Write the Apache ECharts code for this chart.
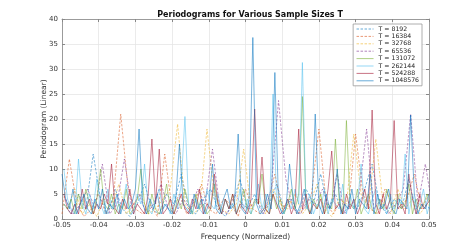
<!DOCTYPE html>
<html>
<head>
<meta charset="utf-8">
<script src="https://cdn.jsdelivr.net/npm/echarts@6/dist/echarts.min.js"></script>
<style>
  html, body { margin: 0; padding: 0; background: #fff; }
  #chart { width: 474px; height: 246px; }
</style>
</head>
<body>
<div id="chart"></div>
<script>
// sample sizes and colours (matlab default order)
var sizes = [8192, 16384, 32768, 65536, 131072, 262144, 524288, 1048576];
var colors = ['#0072BD', '#D95319', '#EDB120', '#7E2F8E', '#77AC30', '#4DBEEE', '#A2142F', '#0072BD'];
var dashed = [true, true, true, true, false, false, false, false];

// frequency grid: start offset + step for each curve
var freqStep = [0.002, 0.002, 0.002, 0.002, 0.001, 0.001, 0.001, 0.001];
var freqOffset = [0.0005, 0, 0.0015, 0.001, 0.0005, 0.0005, 0.0005, 0];

// periodogram values
var p8192 = [3, 1, 5, 2, 13, 4, 1, 6, 2, 0.5, 3, 7, 2, 1, 5, 3, 9, 2, 1, 4, 6, 2, 0.5, 3, 8, 2, 5, 1, 3, 7, 2, 4, 1, 6, 3, 9, 2, 5, 1, 3, 2, 6, 11, 3, 1, 4, 2, 8, 1, 3, 2];
var p16384 = [1, 12, 3, 0.5, 2, 5, 1, 4, 21, 6, 2, 1, 3, 0.5, 13, 2, 5, 1, 3, 7, 2, 1, 4, 3, 0.5, 6, 2, 1, 3, 9, 2, 4, 1, 2, 5, 18, 3, 1, 4, 2, 17, 5, 2, 1, 6, 3, 2, 4, 9, 2, 5];
var p32768 = [2, 6, 1, 3, 0.5, 4, 2, 7, 1, 3, 5, 1, 2, 4, 6, 19, 3, 1, 2, 18, 5, 2, 1, 3, 14, 2, 4, 1, 6, 3, 2, 5, 1, 3, 7, 2, 0.5, 4, 3, 17, 5, 2, 16, 3, 1, 6, 2, 4, 1, 3, 2];
var p65536 = [4, 1, 3, 6, 2, 11, 1, 3, 12, 2, 5, 1, 3, 7, 2, 1, 4, 2, 6, 3, 14, 2, 1, 5, 3, 2, 4, 1, 6, 23.7, 8, 2, 1, 4, 3, 6, 2, 9, 1, 3, 5, 18, 2, 4, 1, 3, 6, 21, 3, 11, 2];
var p131072 = [
    3, 2, 4, 1, 5, 2, 6, 3, 1, 4,
    10, 3, 2, 5, 1, 3, 2, 6, 1, 2,
    4, 10, 3, 1, 5, 2, 1, 3, 7, 2,
    1, 4, 2, 6, 3, 1, 5, 2, 3, 1,
    2, 7, 3, 1, 4, 2, 5, 1, 3, 6,
    2, 1, 4, 3, 9, 2, 1, 5, 2, 4,
    1, 3, 6, 2, 5, 24.5, 3, 1, 4, 2,
    5, 1, 3, 2, 16, 4, 1, 19.7, 3, 2,
    6, 1, 3, 5, 2, 1, 4, 2, 6, 3,
    1, 5, 2, 3, 7, 1, 4, 2, 3, 5,
    2];
var p262144 = [
    10, 4, 2, 1, 12, 3, 1, 5, 2, 8,
    3, 1, 6, 2, 4, 1, 3, 7, 2, 1,
    5, 3, 11, 2, 1, 4, 6, 2, 3, 1,
    5, 2, 7, 20.5, 3, 1, 4, 2, 1, 6,
    3, 2, 5, 1, 4, 2, 3, 1, 6, 2,
    4, 1, 3, 7, 2, 5, 1, 25, 3, 2,
    1, 4, 2, 6, 3, 31.3, 2, 5, 1, 3,
    2, 6, 1, 4, 3, 2, 7, 1, 5, 2,
    3, 11, 2, 1, 4, 6, 2, 3, 1, 5,
    2, 4, 3, 13, 1, 5, 2, 3, 6, 1,
    4];
var p524288 = [
    5, 2, 1, 3, 1, 6, 2, 4, 1, 3,
    2, 5, 3, 11, 2, 1, 4, 2, 6, 1,
    3, 2, 1, 5, 16, 3, 14, 1, 2, 4,
    1, 3, 5, 2, 1, 4, 2, 6, 1, 3,
    2, 9, 3, 1, 4, 2, 5, 1, 3, 2,
    1, 4, 22, 3, 12.4, 2, 1, 5, 3, 1,
    2, 4, 1, 3, 18, 2, 5, 1, 3, 2,
    4, 1, 6, 13.6, 2, 3, 1, 5, 2, 4,
    1, 3, 6, 2, 21.8, 3, 1, 5, 2, 4,
    19.7, 2, 3, 1, 9, 4, 1, 5, 2, 3,
    4];
var p1048576 = [
    9, 4, 2, 6, 1, 3, 5, 2, 1, 4,
    2, 6, 1, 3, 2, 5, 1, 4, 2, 3,
    6, 18, 3, 1, 4, 2, 5, 1, 3, 2,
    1, 4, 15, 3, 2, 1, 5, 2, 4, 1,
    3, 11, 2, 1, 4, 6, 2, 3, 17, 2,
    1, 4, 36.3, 3, 1, 2, 5, 2, 29.3, 3,
    1, 2, 11, 4, 1, 3, 6, 2, 1, 21,
    3, 1, 5, 2, 4, 10, 1, 3, 2, 6,
    1, 4, 3, 2, 9, 1, 5, 2, 3, 6,
    2, 1, 4, 3, 2, 20.8, 5, 1, 3, 2,
    5];
var curves = [p8192, p16384, p32768, p65536, p131072, p262144, p524288, p1048576];

(function () {
    var myChart = echarts.init(document.getElementById('chart'));
    var font = 'DejaVu Sans';

    var series = curves.map(function (vals, k) {
        var pts = vals.map(function (v, i) {
            return [+(-0.05 + freqOffset[k] + i * freqStep[k]).toFixed(5), v];
        });
        return {
            name: 'T = ' + sizes[k],
            type: 'line',
            data: pts,
            symbol: 'none',
            clip: true,
            z: 2 + k,
            lineStyle: {
                color: colors[k],
                width: 0.7,
                type: dashed[k] ? [2.5, 1.5] : 'solid',
                opacity: 0.75
            },
            itemStyle: { color: colors[k] }
        };
    });

    var axisCommon = {
        axisLine: { show: true, onZero: false, lineStyle: { color: '#888', width: 0.8 } },
        axisTick: { show: true, inside: true, length: 3, lineStyle: { color: '#888' } }
    };

    var option = {
        animation: false,
        title: {
            text: 'Periodograms for Various Sample Sizes T',
            left: 245, top: 6,
            textAlign: 'center',
            textStyle: { fontFamily: font, fontSize: 8, fontWeight: 'bold', color: '#111' }
        },
        legend: {
            orient: 'vertical',
            right: 52, top: 24,
            itemWidth: 17, itemHeight: 6, itemGap: 1.4,
            padding: [2, 3, 2, 3],
            borderColor: '#999', borderWidth: 0.8,
            backgroundColor: '#fff',
            itemStyle: { opacity: 0 },
            lineStyle: { width: 0.8, opacity: 0.75 },
            textStyle: { fontFamily: font, fontSize: 6.2, color: '#222' },
            data: sizes.map(function (s) { return 'T = ' + s; })
        },
        grid: { left: 62, right: 45, top: 19, bottom: 27, containLabel: false },
        xAxis: [
            Object.assign({
                type: 'value', min: -0.05, max: 0.05, interval: 0.01,
                name: 'Frequency (Normalized)', nameLocation: 'middle', nameGap: 14,
                nameMoveOverlap: false,
                nameTextStyle: { fontFamily: font, fontSize: 7.5, color: '#333' },
                axisLabel: {
                    fontFamily: font, fontSize: 7, color: '#333', margin: 3,
                    formatter: function (v) { return String(+v.toFixed(2)); }
                },
                splitLine: { show: true, lineStyle: { color: '#e6e6e6', width: 0.8 } }
            }, axisCommon),
            Object.assign({
                type: 'value', min: -0.05, max: 0.05, interval: 0.01, position: 'top',
                axisLabel: { show: false }, splitLine: { show: false }
            }, axisCommon)
        ],
        yAxis: [
            Object.assign({
                type: 'value', min: 0, max: 40, interval: 5,
                name: 'Periodogram (Linear)', nameLocation: 'middle', nameGap: 14,
                nameMoveOverlap: false,
                nameTextStyle: { fontFamily: font, fontSize: 7.5, color: '#333' },
                axisLabel: { fontFamily: font, fontSize: 7, color: '#333', margin: 4 },
                splitLine: { show: true, lineStyle: { color: '#e6e6e6', width: 0.8 } }
            }, axisCommon),
            Object.assign({
                type: 'value', min: 0, max: 40, interval: 5, position: 'right',
                axisLabel: { show: false }, splitLine: { show: false }
            }, axisCommon)
        ],
        series: series
    };
    myChart.setOption(option);
})();
</script>
</body>
</html>
